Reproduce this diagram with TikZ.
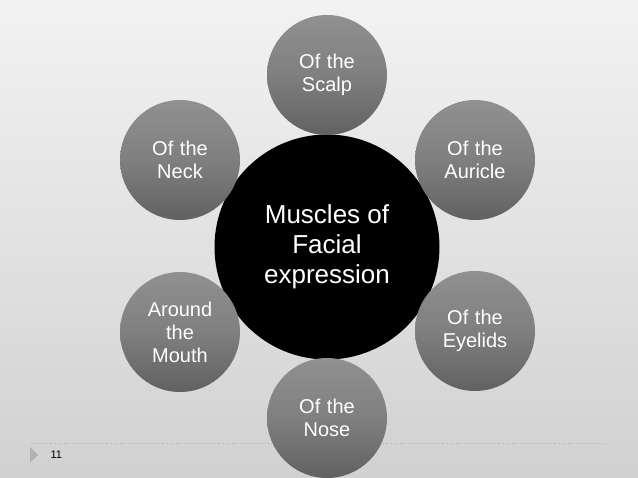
\documentclass[tikz,border=0pt]{standalone}
\usepackage{fontspec}
\setmainfont{Liberation Sans}
\begin{document}
\begin{tikzpicture}[x=1pt,y=-1pt,
  outer/.style={circle,minimum size=120pt,inner sep=0pt,top color=gray!55!black!60,bottom color=black!62,middle color=black!50,
    text=white,font=\fontsize{20}{23}\selectfont,align=center,text width=100pt},
  hub/.style={circle,minimum size=225pt,inner sep=0pt,fill=black,text=white,
    font=\fontsize{26}{30}\selectfont,align=center}]
\shade[top color=white!95!black,bottom color=black!18] (0,0) rectangle (638,478);
\useasboundingbox (0,0) rectangle (638,478);
\draw[black!30,dotted,line width=0.8pt] (30,443) -- (606,443);
\fill[black!30] (30,447) -- (38,455) -- (30,463) -- cycle;
\node[anchor=west,font=\fontsize{11}{13}\selectfont] (pg) at (47,455) {11};
\node[hub] (c) at (327,247) {Muscles of\\Facial\\expression};
\begin{scope}
\clip (0,0) rectangle (638,478);
\node[outer] (s) at (327,75) {Of the\\Scalp};
\node[outer] (a) at (475,160) {Of the\\Auricle};
\node[outer] (e) at (475,331) {Of the\\Eyelids};
\node[outer] (n) at (327,418) {Of the\\Nose};
\node[outer] (m) at (180,332) {Around\\the\\Mouth};
\node[outer] (k) at (180,160) {Of the\\Neck};
\end{scope}
\end{tikzpicture}
\end{document}
